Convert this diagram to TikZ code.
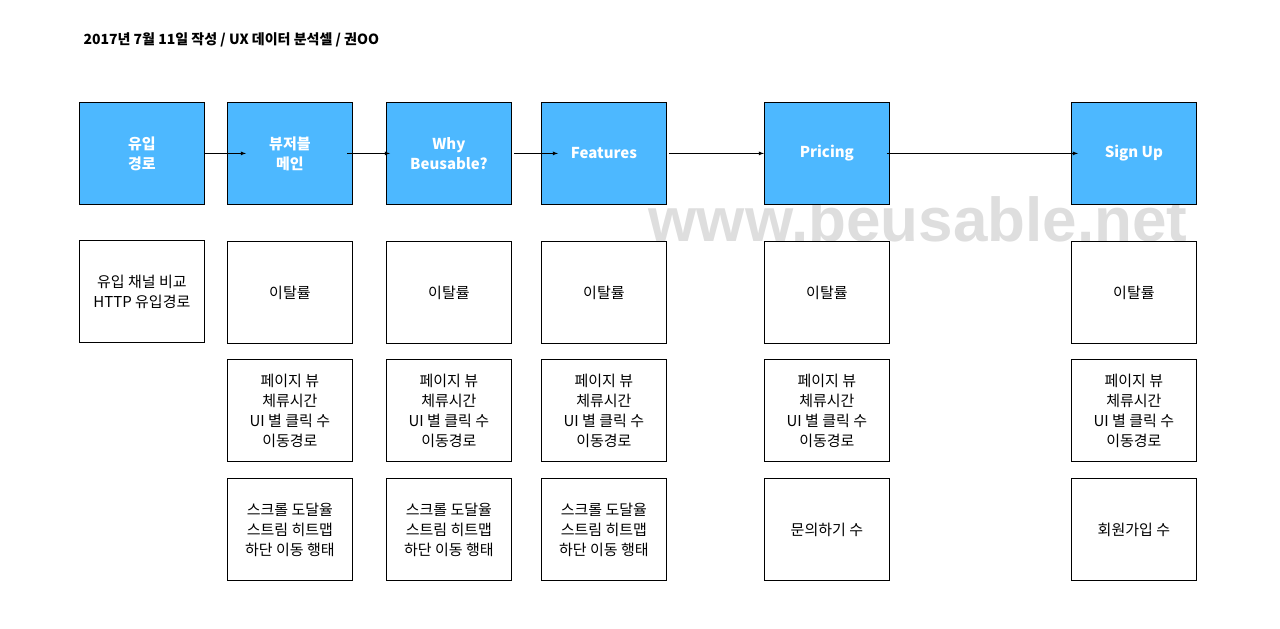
\documentclass[tikz,border=0pt]{standalone}
\usepackage{fontspec}
\setmainfont{Noto Sans CJK KR}
\newfontfamily\wm{Liberation Sans}
\definecolor{bl}{HTML}{4DB8FF}
\begin{document}
\begin{tikzpicture}[x=1pt,y=-1pt,
 bx/.style={draw,line width=0.8pt,minimum width=125pt,minimum height=102pt,align=center,font=\fontsize{15}{20}\selectfont,anchor=north west,inner sep=0},
 bb/.style={bx,fill=bl,text=white,font=\fontsize{15}{20}\selectfont\bfseries},
 ar/.style={-latex,line width=0.8pt}]
\useasboundingbox (0,0) rectangle (1280,629);
\node[anchor=west,font=\fontsize{14}{16}\selectfont\bfseries] (t) at (80,40) {2017년 7월 11일 작성 / UX 데이터 분석셀 / 권OO};
\node[anchor=center,font=\wm\fontsize{62}{62}\selectfont\bfseries,text=black!13] (w) at (918,219) {www.beusable.net};
\foreach \n/\x/\w in {a/79/125,b/227/125,c/386/126,d/541/127,e/764/126,f/1071/126}{
 \coordinate (\n0) at (\x,102);}
\node[bb] (a) at (79,102) {유입\\경로};
\node[bb] (b) at (227,102) {뷰저블\\메인};
\node[bb] (c) at (386,102) {Why\\Beusable?};
\node[bb] (d) at (541,102) {Features};
\node[bb] (e) at (764,102) {Pricing};
\node[bb] (f) at (1071,102) {Sign Up};
\draw[ar] (a.east) -- ([xshift=19]b.west);
\draw[ar] ([xshift=-6]b.east) -- ([xshift=4]c.west);
\draw[ar] ([xshift=2]c.east) -- ([xshift=17]d.west);
\draw[ar] ([xshift=2]d.east) -- (e.west);
\draw[ar] ([xshift=-3]e.east) -- ([xshift=7]f.west);
\node[bx] (a1) at (79,240) {유입 채널 비교\\HTTP 유입경로};
\foreach \n/\x in {b/227,c/386,d/541,e/764,f/1071}{
 \node[bx] (\n1) at (\x,241) {이탈률};
 \node[bx] (\n2) at (\x,359) {페이지 뷰\\체류시간\\UI 별 클릭 수\\이동경로};}
\foreach \n/\x in {b/227,c/386,d/541}{
 \node[bx] (\n3) at (\x,478) {스크롤 도달율\\스트림 히트맵\\하단 이동 행태};}
\node[bx] (e3) at (764,478) {문의하기 수};
\node[bx] (f3) at (1071,478) {회원가입 수};
\end{tikzpicture}
\end{document}
